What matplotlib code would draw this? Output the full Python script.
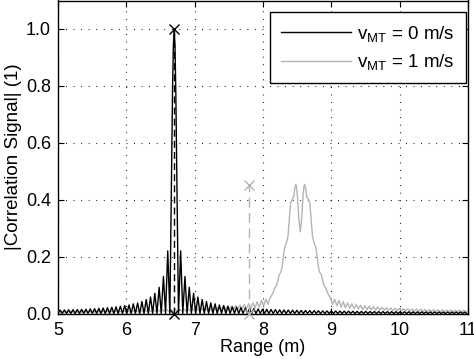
import matplotlib
matplotlib.use("Agg")
import matplotlib.pyplot as plt
from matplotlib.lines import Line2D

plt.rcParams['font.family'] = ['Liberation Sans', 'DejaVu Sans']
plt.rcParams['mathtext.fontset'] = 'custom'
plt.rcParams['mathtext.rm'] = 'Liberation Sans'
plt.rcParams['mathtext.it'] = 'Liberation Sans'

# ---------------- data ----------------
# v_MT = 0 m/s : lobe tops (range m, |corr|)
black_peak_x = [5.031, 5.094, 5.157, 5.220, 5.283, 5.346, 5.409, 5.472, 5.535, 5.598,
                5.661, 5.724, 5.787, 5.850, 5.913, 5.976, 6.039, 6.102, 6.165, 6.228,
                6.291, 6.354, 6.417, 6.480, 6.543, 6.606,
                6.652, 6.664, 6.676, 6.688, 6.700, 6.712, 6.724, 6.736, 6.748,
                6.795, 6.858, 6.921, 6.984, 7.047, 7.110, 7.173, 7.236, 7.299, 7.362,
                7.425, 7.488, 7.551, 7.614, 7.677, 7.740, 7.803, 7.866, 7.929, 7.992,
                8.055, 8.118, 8.181, 8.244, 8.307, 8.370, 8.433, 8.496, 8.559, 8.622,
                8.685, 8.748, 8.811, 8.874, 8.937, 9.000, 9.063, 9.126, 9.189, 9.252,
                9.315, 9.378, 9.441, 9.504, 9.567, 9.630, 9.693, 9.756, 9.819, 9.882,
                9.945, 10.008, 10.071, 10.134, 10.197, 10.260, 10.323, 10.386, 10.449,
                10.512, 10.575, 10.638, 10.701, 10.764, 10.827, 10.890, 10.953]
black_peak_y = [0.012, 0.0125, 0.013, 0.0135, 0.014, 0.0145, 0.015, 0.016, 0.017, 0.018,
                0.019, 0.0205, 0.022, 0.0235, 0.0255, 0.028, 0.030, 0.034, 0.037, 0.042,
                0.049, 0.058, 0.071, 0.092, 0.13, 0.22,
                0.30, 0.55, 0.78, 0.94, 1.0, 0.94, 0.78, 0.55, 0.30,
                0.22, 0.13, 0.092, 0.071, 0.058, 0.049, 0.042, 0.037, 0.034, 0.030,
                0.028, 0.0255, 0.0235, 0.022, 0.0205, 0.019, 0.018, 0.017, 0.016, 0.015,
                0.0145, 0.014, 0.0135, 0.013, 0.0125, 0.012, 0.0116, 0.0112, 0.0108, 0.0105,
                0.0102, 0.0099, 0.0096, 0.0093, 0.0091, 0.0088, 0.0086, 0.0084, 0.0082, 0.0080,
                0.0078, 0.0076, 0.0074, 0.0073, 0.0071, 0.0070, 0.0068, 0.0067, 0.0065, 0.0064,
                0.0063, 0.0062, 0.0060, 0.0059, 0.0058, 0.0057, 0.0056, 0.0055, 0.0054,
                0.0053, 0.0052, 0.0051, 0.0050, 0.0049, 0.0049, 0.0048, 0.0047]
# v_MT = 0 m/s : nulls between lobes (|corr| = 0)
black_null_x = [5.000, 5.062, 5.125, 5.188, 5.251, 5.314, 5.377, 5.440, 5.503, 5.566,
                5.629, 5.692, 5.755, 5.818, 5.881, 5.944, 6.007, 6.070, 6.133, 6.196,
                6.259, 6.322, 6.385, 6.448, 6.511, 6.574, 6.637, 6.763, 6.826, 6.889,
                6.952, 7.015, 7.078, 7.141, 7.204, 7.267, 7.330, 7.393, 7.456, 7.519,
                7.582, 7.645, 7.708, 7.771, 7.834, 7.897, 7.960, 8.023, 8.086, 8.149,
                8.212, 8.275, 8.338, 8.401, 8.464, 8.527, 8.590, 8.653, 8.716, 8.779,
                8.842, 8.905, 8.968, 9.031, 9.094, 9.157, 9.220, 9.283, 9.346, 9.409,
                9.472, 9.535, 9.598, 9.661, 9.724, 9.787, 9.850, 9.913, 9.976, 10.039,
                10.102, 10.165, 10.228, 10.291, 10.354, 10.417, 10.480, 10.543, 10.606,
                10.669, 10.732, 10.795, 10.858, 10.921, 10.984]

# v_MT = 1 m/s : curve vertices (range m, |corr|)
gray_x = [5.000, 5.017, 5.048, 5.080, 5.111, 5.143, 5.174, 5.206, 5.237, 5.269, 5.300,
          5.332, 5.363, 5.395, 5.426, 5.458, 5.489, 5.521, 5.552, 5.584, 5.615,
          5.647, 5.678, 5.710, 5.741, 5.773, 5.804, 5.836, 5.867, 5.899, 5.930,
          5.962, 5.993, 6.025, 6.056, 6.088, 6.119, 6.151, 6.182, 6.214, 6.245,
          6.277, 6.308, 6.340, 6.371, 6.403, 6.434, 6.466, 6.497, 6.529, 6.560,
          6.592, 6.623, 6.655, 6.686, 6.718, 6.749, 6.781, 6.812, 6.844, 6.875,
          6.907, 6.938, 6.970, 7.001, 7.033, 7.064, 7.096, 7.127, 7.159, 7.190,
          7.222, 7.253, 7.285, 7.316, 7.348, 7.379, 7.411, 7.442, 7.474, 7.505,
          7.537, 7.568, 7.600, 7.631, 7.663, 7.694, 7.726, 7.757, 7.789, 7.820,
          7.852, 7.883, 7.915, 7.946, 7.978, 8.009, 8.041, 8.072, 8.104,
          8.130, 8.150, 8.170, 8.195, 8.215, 8.235, 8.260, 8.280, 8.300, 8.320,
          8.345, 8.365, 8.385, 8.405, 8.425, 8.450, 8.465, 8.480, 8.490, 8.505,
          8.525, 8.545, 8.565, 8.585, 8.600, 8.610, 8.625, 8.640, 8.665, 8.685,
          8.705, 8.725, 8.745, 8.770, 8.790, 8.810, 8.830, 8.855, 8.875, 8.895,
          8.920, 8.940, 8.960,
          8.986, 9.018, 9.049, 9.081, 9.112, 9.144, 9.175, 9.207, 9.238, 9.270,
          9.301, 9.333, 9.364, 9.396, 9.427, 9.459, 9.490, 9.522, 9.553, 9.585,
          9.616, 9.648, 9.679, 9.711, 9.742, 9.774, 9.805, 9.837, 9.868, 9.900,
          9.931, 9.963, 9.994, 10.026, 10.057, 10.089, 10.120, 10.152, 10.183, 10.215,
          10.246, 10.278, 10.309, 10.341, 10.372, 10.404, 10.435, 10.467, 10.498, 10.530,
          10.561, 10.593, 10.624, 10.656, 10.687, 10.719, 10.750, 10.782, 10.813, 10.845,
          10.876, 10.908, 10.939, 10.971, 11.000]
gray_y = [0.0037, 0.0074, 0.0037, 0.0075, 0.0038, 0.0076, 0.0039, 0.0078, 0.0039, 0.0079, 0.0040,
          0.0081, 0.0041, 0.0083, 0.0042, 0.0084, 0.0043, 0.0086, 0.0043, 0.0088, 0.0044,
          0.0090, 0.0045, 0.0092, 0.0046, 0.0094, 0.0047, 0.0096, 0.0049, 0.0098, 0.0050,
          0.0101, 0.0051, 0.0103, 0.0052, 0.0106, 0.0054, 0.0109, 0.0055, 0.0112, 0.0057,
          0.0115, 0.0058, 0.0118, 0.0060, 0.0121, 0.0062, 0.0125, 0.0063, 0.0129, 0.0066,
          0.0133, 0.0068, 0.0138, 0.0070, 0.0142, 0.0072, 0.0147, 0.0075, 0.0153, 0.0078,
          0.0159, 0.0081, 0.0165, 0.0084, 0.0172, 0.0088, 0.0179, 0.0092, 0.0188, 0.0096,
          0.0197, 0.0101, 0.0206, 0.0106, 0.0217, 0.0112, 0.0229, 0.0118, 0.0243, 0.0125,
          0.0258, 0.0133, 0.0275, 0.0142, 0.0295, 0.0153, 0.0317, 0.0165, 0.0344, 0.0179,
          0.0375, 0.0197, 0.0413, 0.0217, 0.0459, 0.0270, 0.0500, 0.0320, 0.0550,
          0.065, 0.075, 0.090, 0.097, 0.112, 0.135, 0.145, 0.165, 0.205, 0.235,
          0.25, 0.27, 0.33, 0.39, 0.40, 0.41, 0.44, 0.453, 0.448, 0.41,
          0.33, 0.287, 0.33, 0.41, 0.448, 0.453, 0.44, 0.41, 0.40, 0.39,
          0.33, 0.27, 0.25, 0.235, 0.205, 0.165, 0.145, 0.135, 0.112, 0.097,
          0.090, 0.075, 0.065,
          0.0550, 0.0320, 0.0500, 0.0270, 0.0459, 0.0217, 0.0413, 0.0197, 0.0375, 0.0179,
          0.0344, 0.0165, 0.0317, 0.0153, 0.0295, 0.0142, 0.0275, 0.0133, 0.0258, 0.0125,
          0.0243, 0.0118, 0.0229, 0.0112, 0.0217, 0.0106, 0.0206, 0.0101, 0.0197, 0.0096,
          0.0188, 0.0092, 0.0179, 0.0088, 0.0172, 0.0084, 0.0165, 0.0081, 0.0159, 0.0078,
          0.0153, 0.0075, 0.0147, 0.0072, 0.0142, 0.0070, 0.0138, 0.0068, 0.0133, 0.0066,
          0.0129, 0.0063, 0.0125, 0.0062, 0.0121, 0.0060, 0.0118, 0.0058, 0.0115, 0.0057,
          0.0112, 0.0055, 0.0109, 0.0054, 0.0100]

# detected target markers
black_marker_x = 6.7
black_marker_y = [0.0, 1.0]
gray_marker_x = 7.8
gray_marker_y = [0.0, 0.45]

x_ticks = [5, 6, 7, 8, 9, 10, 11]
y_ticks = [0.0, 0.2, 0.4, 0.6, 0.8, 1.0]
legend_labels = [r'v$_{\mathrm{MT}}$ = 0 m/s', r'v$_{\mathrm{MT}}$ = 1 m/s']

# ---------------- drawing ----------------
gray_col = '#b4b4b4'
black_pts = sorted(list(zip(black_peak_x, black_peak_y)) + [(x, 0.0) for x in black_null_x])
bx = [p[0] for p in black_pts]
by = [p[1] for p in black_pts]

fig = plt.figure(figsize=(4.74, 3.59), dpi=100)
ax = fig.add_axes([58 / 474, 45.5 / 359, 410 / 474, 313 / 359])

ax.plot(gray_x, gray_y, color=gray_col, lw=1.0, zorder=3)
ax.plot(bx, by, color='black', lw=1.0, zorder=4)

ax.plot([black_marker_x] * 2, black_marker_y, color='black', lw=1.0,
        linestyle=(0, (5, 3)), zorder=5)
ax.plot([black_marker_x] * 2, black_marker_y, color='black', lw=0, marker='x',
        ms=7, mew=1.0, zorder=6, clip_on=False)
ax.plot([gray_marker_x] * 2, gray_marker_y, color=gray_col, lw=1.0,
        linestyle=(0, (7, 4)), zorder=5)
ax.plot([gray_marker_x] * 2, gray_marker_y, color=gray_col, lw=0, marker='x',
        ms=7, mew=1.0, zorder=6, clip_on=False)

ax.set_xlim(5, 11)
ax.set_ylim(0, 1.1)
ax.set_xticks(x_ticks)
ax.set_xticklabels([str(t) for t in x_ticks])
ax.set_yticks(y_ticks)
ax.set_yticklabels([f'{t:.1f}' for t in y_ticks])
ax.tick_params(direction='in', length=4, width=0.8, top=True, right=True,
               labelsize=13, colors='black')
ax.tick_params(axis='x', pad=6)
ax.tick_params(axis='y', pad=5)
ax.grid(True, color='black', linestyle=(0, (0.8, 6)), linewidth=0.8)
for s in ax.spines.values():
    s.set_linewidth(1.0)

ax.set_xlabel('Range (m)', fontsize=13, labelpad=0)
ax.set_ylabel('|Correlation Signal| (1)', fontsize=13.5, labelpad=3)

handles = [Line2D([], [], color='black', lw=1.0), Line2D([], [], color=gray_col, lw=1.0)]
leg = ax.legend(handles, legend_labels, loc='upper right', bbox_to_anchor=(0.995, 0.962),
                borderaxespad=0, fontsize=13.5, handlelength=3.7, handletextpad=0.35,
                labelspacing=0.45, borderpad=0.6, fancybox=False, framealpha=1,
                edgecolor='black')
leg.get_frame().set_linewidth(1.0)
leg.set_zorder(10)

fig.savefig('out.png', dpi=100)
